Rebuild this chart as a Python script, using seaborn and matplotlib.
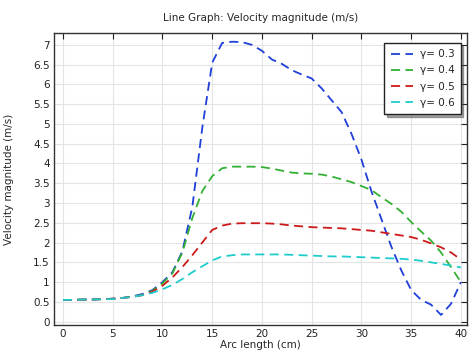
import numpy as np
import pandas as pd
import seaborn as sns
from matplotlib import pyplot as plt

# Arc length (cm)
arc = list(range(0, 41))

# Velocity magnitude (m/s) for each gamma
v_03 = [0.55, 0.55, 0.56, 0.56, 0.57, 0.58, 0.60, 0.64, 0.70, 0.80,
        1.00, 1.25, 1.78, 2.90, 4.90, 6.55, 7.05, 7.08, 7.07, 7.00,
        6.85, 6.63, 6.52, 6.36, 6.25, 6.15, 5.90, 5.60, 5.30, 4.75,
        4.10, 3.30, 2.60, 1.90, 1.30, 0.80, 0.55, 0.43, 0.17, 0.45, 1.00]
v_04 = [0.55, 0.55, 0.56, 0.56, 0.57, 0.58, 0.60, 0.63, 0.68, 0.78,
        0.97, 1.22, 1.75, 2.62, 3.30, 3.68, 3.88, 3.92, 3.92, 3.92,
        3.91, 3.87, 3.82, 3.77, 3.75, 3.74, 3.72, 3.67, 3.60, 3.53,
        3.43, 3.33, 3.15, 2.98, 2.78, 2.52, 2.28, 2.05, 1.75, 1.38, 1.00]
v_05 = [0.55, 0.55, 0.56, 0.56, 0.57, 0.58, 0.60, 0.63, 0.67, 0.76,
        0.91, 1.12, 1.38, 1.68, 2.00, 2.32, 2.43, 2.48, 2.49, 2.49,
        2.49, 2.48, 2.46, 2.43, 2.41, 2.39, 2.38, 2.37, 2.36, 2.34,
        2.32, 2.30, 2.26, 2.22, 2.18, 2.14, 2.07, 1.98, 1.88, 1.75, 1.57]
v_06 = [0.55, 0.55, 0.56, 0.56, 0.57, 0.57, 0.60, 0.63, 0.67, 0.73,
        0.82, 0.93, 1.08, 1.25, 1.40, 1.55, 1.65, 1.68, 1.70, 1.70,
        1.70, 1.70, 1.70, 1.69, 1.68, 1.67, 1.66, 1.65, 1.65, 1.64,
        1.63, 1.62, 1.61, 1.60, 1.59, 1.57, 1.54, 1.50, 1.46, 1.42, 1.37]

labels = ["γ= 0.3", "γ= 0.4", "γ= 0.5", "γ= 0.6"]
colors = ["#1f3fd8", "#33b033", "#cc1a1a", "#1fcccc"]

df = pd.concat([
    pd.DataFrame({"arc": arc, "v": vals, "gamma": lab})
    for vals, lab in zip([v_03, v_04, v_05, v_06], labels)
])

sns.set_style("white")
plt.rcParams['font.family'] = ['DejaVu Sans']
plt.rcParams['font.size'] = 7.5

fig = plt.figure(figsize=(4.74, 3.55), dpi=100)
ax = fig.add_axes([0.114, 0.085, 0.871, 0.822])

sns.lineplot(data=df, x="arc", y="v", hue="gamma", palette=colors,
             ax=ax, linewidth=1.3, legend=True)
for line in ax.get_lines():
    line.set_dashes([5, 3])

ax.set_xlim(-0.9, 40.6)
ax.set_ylim(-0.08, 7.3)
ax.set_xticks(np.arange(0, 41, 5))
ax.set_yticks(np.arange(0, 7.01, 0.5))
ax.set_yticklabels([f"{t:g}" for t in np.arange(0, 7.01, 0.5)])
ax.grid(True, color="#e4e4e4", linewidth=0.8)
ax.tick_params(direction="in", top=True, right=True, length=4, width=0.8,
               labelsize=7.5, colors="#222222", pad=3)
for s in ax.spines.values():
    s.set_color("#333333")
    s.set_linewidth(1.0)

ax.set_xlabel("Arc length (cm)", fontsize=7.5, labelpad=1)
ax.set_ylabel("Velocity magnitude (m/s)", fontsize=7.5, labelpad=14)
ax.set_title("Line Graph: Velocity magnitude (m/s)", fontsize=7.5, pad=9)

handles, labs = ax.get_legend_handles_labels()
for h in handles:
    h.set_dashes([5, 3])
leg = ax.legend(handles, labs, loc="upper right", bbox_to_anchor=(0.985, 0.966),
                borderaxespad=0, frameon=True, fancybox=False, shadow=True,
                edgecolor="#222222", fontsize=7.5, handlelength=2.2,
                handletextpad=0.6, labelspacing=0.6, borderpad=0.6,
                framealpha=1)
leg.get_frame().set_linewidth(1.0)

plt.savefig("out.png", dpi=100)
